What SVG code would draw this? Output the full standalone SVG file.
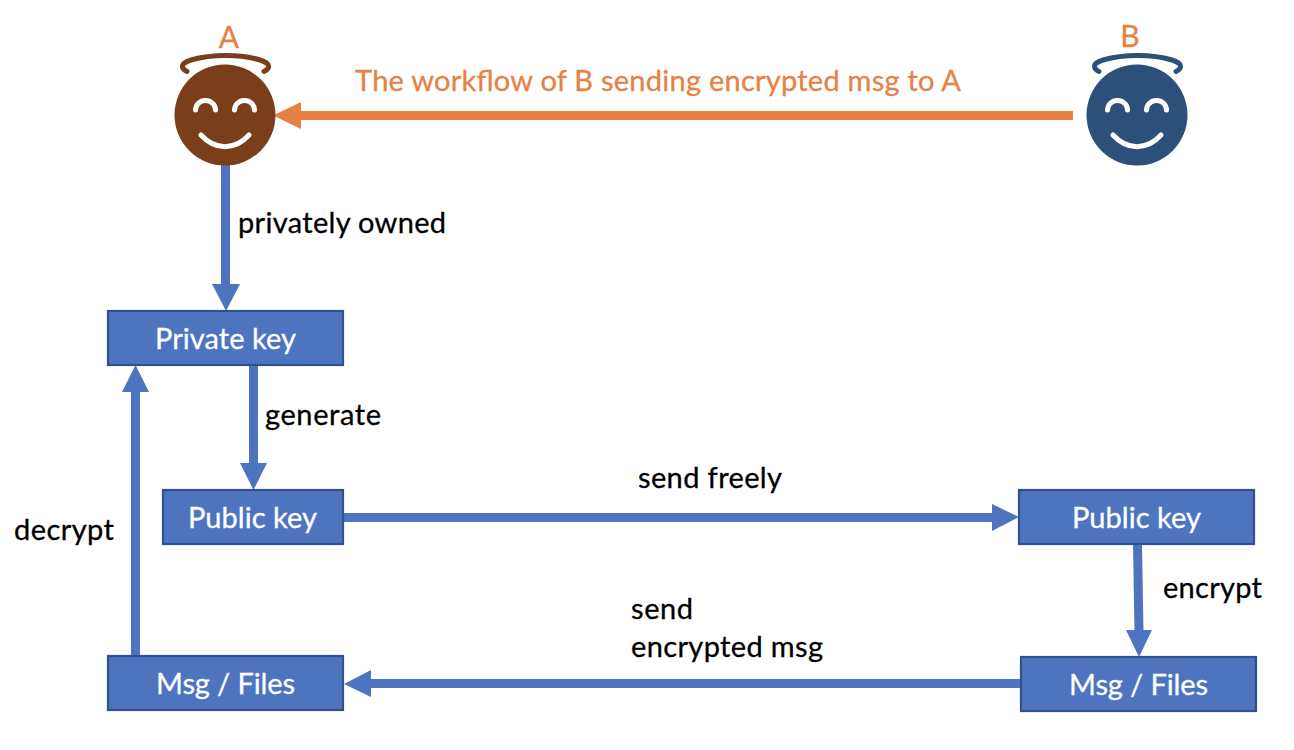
<svg xmlns="http://www.w3.org/2000/svg" width="1294" height="750" viewBox="0 0 1294 750">
<style>
text{font-family:"Lato","Open Sans","Liberation Sans",sans-serif;font-size:29px;stroke-width:.3}
.box{fill:#4e74bf;stroke:#2f528f;stroke-width:2.2}
.lbl{fill:#fff;stroke:#fff;text-anchor:middle}
.cap{fill:#000;stroke:#000}
.or{fill:#e58244;stroke:#e58244}
.name{font-size:30px;text-anchor:middle}
.c{stroke:#4e74bf;stroke-width:9;fill:none}
.h{fill:#4e74bf}
.f{fill:none;stroke:#fff;stroke-width:5;stroke-linecap:round}
.halo{fill:none;stroke-width:5;stroke-linecap:round}
</style>
<rect width="1294" height="750" fill="#fff"/>
<g id="connectors">
<path d="M1073 115.500H298" fill="none" stroke="#e58244" stroke-width="9"/>
<path d="M273 115.500L301 102V129Z" fill="#e58244"/>
<path class="c" d="M225.500 161V285"/><path class="h" d="M226 311L212 284H240Z"/>
<path class="c" d="M253.500 365V465"/><path class="h" d="M253.500 490L240 463H267Z"/>
<path class="c" d="M344 517.500H995"/><path class="h" d="M1019 517L992 504V531Z"/>
<path class="c" d="M1137.500 544L1139 632"/><path class="h" d="M1139 657L1126 630H1152Z"/>
<path class="c" d="M1021 683.500H370"/><path class="h" d="M344 684L371 670V697Z"/>
<path class="c" d="M135.500 656V390"/><path class="h" d="M135.500 365L122 392H149Z"/>
</g>
<g id="person-a">
<circle cx="225" cy="115" r="50.500" fill="#7a3e1a"/>
<path class="halo" stroke="#7a3e1a" d="M187 71.500C180 68 181 63 191 60C212 54 240 54 260 60C270 63 271 68 264 71.500"/>
<path class="f" d="M195.500 110a10 9.500 0 0 1 20 0M234.500 110a10 9.500 0 0 1 20 0M201 135C215 150.500 235 150.500 249 135"/>
<text x="229" y="48" class="or name">A</text>
</g>
<g id="person-b">
<circle cx="1137" cy="115" r="50.500" fill="#2c5079"/>
<path class="halo" stroke="#2c5079" d="M1099 71.500C1092 68 1093 63 1103 60C1124 54 1152 54 1172 60C1182 63 1183 68 1176 71.500"/>
<path class="f" d="M1107.500 110a10 9.500 0 0 1 20 0M1146.500 110a10 9.500 0 0 1 20 0M1113 135C1127 150.500 1147 150.500 1161 135"/>
<text x="1130" y="47" class="or name">B</text>
</g>
<g id="private-key"><rect class="box" x="108" y="311" width="235" height="54"/><text class="lbl" x="225.500" y="349" textLength="141">Private key</text></g>
<g id="public-key-a"><rect class="box" x="163" y="490" width="180" height="54"/><text class="lbl" x="252.500" y="528" textLength="129">Public key</text></g>
<g id="public-key-b"><rect class="box" x="1019" y="490" width="235" height="54"/><text class="lbl" x="1136.500" y="528" textLength="129">Public key</text></g>
<g id="msg-files-b"><rect class="box" x="1021" y="657" width="235" height="54"/><text class="lbl" x="1138.500" y="695" textLength="139">Msg / Files</text></g>
<g id="msg-files-a"><rect class="box" x="108" y="656" width="235" height="54"/><text class="lbl" x="225.500" y="694" textLength="139">Msg / Files</text></g>
<g id="labels">
<text class="or" x="355" y="91" textLength="606">The workflow of B sending encrypted msg to A</text>
<text class="cap" x="238" y="233" textLength="208">privately owned</text>
<text class="cap" x="265" y="425" textLength="116">generate</text>
<text class="cap" x="638" y="488" textLength="144">send freely</text>
<text class="cap" x="14" y="540" textLength="100">decrypt</text>
<text class="cap" x="1163" y="598" textLength="99">encrypt</text>
<text class="cap" x="631" y="619" textLength="62">send</text>
<text class="cap" x="631" y="657" textLength="192">encrypted msg</text>
</g>
</svg>
